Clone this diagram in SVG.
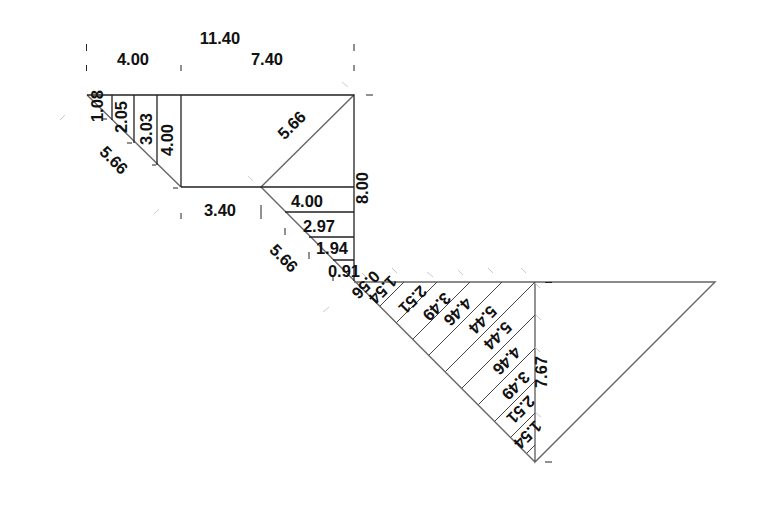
<svg xmlns="http://www.w3.org/2000/svg" width="768" height="512" viewBox="0 0 768 512">
<style>
text{font-family:"Liberation Sans",Arial,sans-serif;font-weight:bold;font-size:16.5px;fill:#111;text-anchor:middle;dominant-baseline:central}
.l{stroke:#222;stroke-width:1.3;fill:none}
.g{stroke:#666;stroke-width:1.4;fill:none}
.t{stroke:#444;stroke-width:1;fill:none}
.k{stroke:#222;stroke-width:1;fill:none}
.f{stroke:#ccc;stroke-width:1;fill:none}
</style>
<rect width="768" height="512" fill="#fff"/>
<g id="connectors">
<path class="g" d="M87 95L181 187M354 95L261 187L535 462L715 282H354M535 282V462L715 282"/>
<path class="l" d="M87 95H354V281M181 95V187M112 95V120M134 95V143M157 95V165M181 187H354M285 212H354M309 237H354M333 260H354"/>
<path class="t" d="M380 306L404 282M396.500 322.500L437 282M413 339L470 282M429 355L502 282M445.500 371.500L535 282M462 388L535 315M478.500 404.500L535 348M495 421L535 381M511 437L535 413M527 453L535 445"/>
<path class="k" d="M86.500 44V51M86.500 65V71M181 65V71M354 44V51M354 65V71M181 213V219M261 205V219M285 228V235M309 252V259M333 276V281M366 95H373M103 119H107M127 143H132M152 165H156M173 188H178M545 282.500H552M545 462H552"/>
<path class="f" d="M60 120L65 115M154 214L159 209M342 82L348 87M248 176L253 181M323 312L329 307M392 268L397 273M362 273L366 277M427 272L433 277M458 270L463 275M488 268L493 273M521 268L526 273M535 283L540 288M536 315L541 320M535 347L540 352M536 413L541 417"/>
</g>
<g id="labels">
<text x="220" y="38">11.40</text>
<text x="133" y="59">4.00</text>
<text x="267" y="59">7.40</text>
<text x="220" y="210">3.40</text>
<text x="307" y="201">4.00</text>
<text x="319" y="226">2.97</text>
<text x="332" y="248">1.94</text>
<text x="344" y="271">0.91</text>
<text transform="translate(97 106) rotate(-90)">1.08</text>
<text transform="translate(120.500 117) rotate(-90)">2.05</text>
<text transform="translate(145.500 129) rotate(-90)">3.03</text>
<text transform="translate(167 140) rotate(-90)">4.00</text>
<text transform="translate(362 188) rotate(-90)">8.00</text>
<text transform="translate(114 160) rotate(45)">5.66</text>
<text transform="translate(284 258) rotate(45)">5.66</text>
<text transform="translate(291.500 125) rotate(-45)">5.66</text>
<text transform="translate(366 285) rotate(135)">0.56</text>
<text transform="translate(383 290) rotate(135)">1.54</text>
<text transform="translate(413 300) rotate(135)">2.51</text>
<text transform="translate(437 307) rotate(135)">3.49</text>
<text transform="translate(458 312) rotate(135)">4.46</text>
<text transform="translate(483 320) rotate(135)">5.44</text>
<text transform="translate(498 336) rotate(135)">5.44</text>
<text transform="translate(507 361) rotate(135)">4.46</text>
<text transform="translate(516 386) rotate(135)">3.49</text>
<text transform="translate(521 410) rotate(135)">2.51</text>
<text transform="translate(528 435) rotate(135)">1.54</text>
<text transform="translate(541 372) rotate(-90)">7.67</text>
</g>
</svg>
